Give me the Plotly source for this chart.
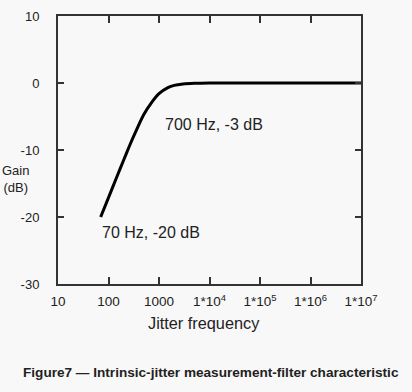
import plotly.graph_objects as go

# Data
freq_hz = [70, 100, 150, 200, 250, 300, 400, 500, 700, 1000, 1500, 2000, 3000, 5000, 10000, 100000, 1000000, 10000000]
gain_db = [-20.0, -17.1, -13.8, -11.5, -9.7, -8.3, -6.2, -4.7, -3.0, -1.6, -0.7, -0.35, -0.15, -0.05, 0.0, 0.0, 0.0, 0.0]

x_tickvals = [10, 100, 1000, 10000, 100000, 1000000, 10000000]
x_ticktext = ["10", "100", "1000", "1*10<sup>4</sup>", "1*10<sup>5</sup>", "1*10<sup>6</sup>", "1*10<sup>7</sup>"]
y_tickvals = [10, 0, -10, -20, -30]
y_ticktext = ["10", "0", "-10", "-20", "-30"]

ann_labels = ["700 Hz, -3 dB", "70 Hz, -20 dB"]

BG = "#f8f8f8"
FONT = "Liberation Sans, Arial, sans-serif"
W, H = 412, 392
L, R, T, B = 58, 51, 16, 108
pw, ph = W - L - R, H - T - B


def px_to_paper(px, py):
    return (px - L) / pw, 1 - (py - T) / ph


fig = go.Figure()
fig.add_trace(go.Scatter(x=freq_hz, y=gain_db, mode="lines",
                         line=dict(color="black", width=3, shape="spline", smoothing=0.6),
                         showlegend=False, hoverinfo="skip"))

fig.update_layout(
    width=W, height=H,
    paper_bgcolor=BG, plot_bgcolor=BG,
    margin=dict(l=L, r=R, t=T, b=B),
    font=dict(family=FONT, color="#222", size=13),
    showlegend=False,
)
fig.update_xaxes(type="log", range=[1, 7], tickvals=x_tickvals, ticktext=x_ticktext,
                 ticks="inside", ticklen=7, tickwidth=1.5, tickcolor="#333",
                 showline=True, linecolor="#333", linewidth=2, mirror="ticks",
                 showgrid=False, zeroline=False, tickfont=dict(size=13.5, family=FONT),
                 ticklabelstandoff=4, automargin=False)
fig.update_yaxes(range=[-30, 10], tickvals=y_tickvals, ticktext=y_ticktext,
                 ticks="inside", ticklen=6, tickwidth=1.5, tickcolor="#333",
                 showline=True, linecolor="#333", linewidth=2, mirror="ticks",
                 showgrid=False, zeroline=False, tickfont=dict(size=13, family=FONT),
                 ticklabelstandoff=14, automargin=False)

# point annotations
fig.add_annotation(x=3.08, y=-6.2, xref="x", yref="y", text=ann_labels[0], showarrow=False,
                   xanchor="left", yanchor="middle", font=dict(size=16, family=FONT, color="#222"))
fig.add_annotation(x=1.84, y=-22.3, xref="x", yref="y", text=ann_labels[1], showarrow=False,
                   xanchor="left", yanchor="middle", font=dict(size=16, family=FONT, color="#222"))

# axis titles and caption (positions in page pixels)
for text, px, py, size in [
    ("Gain<br>(dB)", 15, 179, 13),
    ("Jitter frequency", 204, 323, 16.3),
    ("<b>Figure7 — Intrinsic-jitter measurement-filter characteristic</b>", 211, 372, 13.6),
]:
    xp, yp = px_to_paper(px, py)
    fig.add_annotation(x=xp, y=yp, xref="paper", yref="paper", text=text, showarrow=False,
                       xanchor="center", yanchor="middle",
                       font=dict(size=size, family=FONT, color="#222"))

fig.write_html("out.html", config={"displayModeBar": False},
               post_script="document.body.style.margin='0';document.body.style.background='%s';" % BG)
